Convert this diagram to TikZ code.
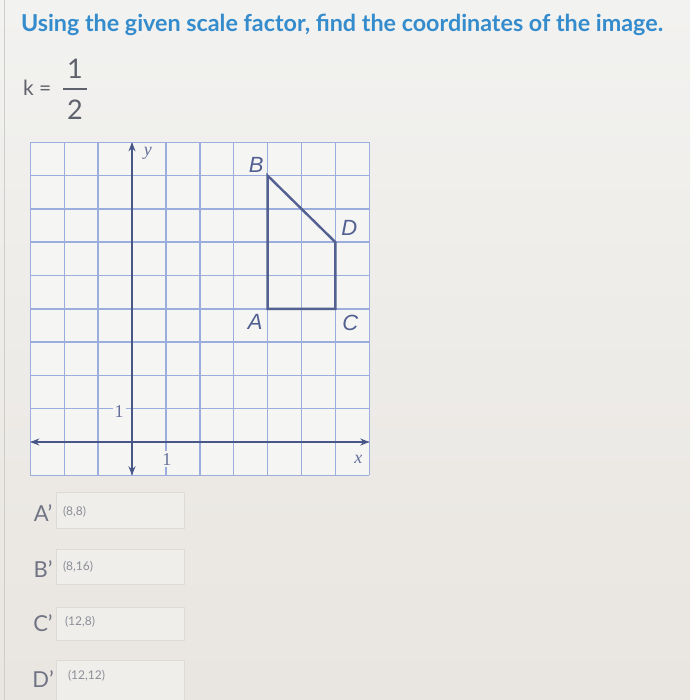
\documentclass[tikz,border=0pt]{standalone}
\usepackage{fontspec}
\setmainfont{Lato}
\newfontfamily\serif{Liberation Serif}
\newfontfamily\arial{Liberation Sans}
\usetikzlibrary{positioning,arrows.meta}
\definecolor{bgtop}{RGB}{242,242,240}
\definecolor{bgbottom}{RGB}{233,229,224}
\definecolor{paper}{RGB}{245,245,243}
\definecolor{titleblue}{RGB}{52,140,205}
\definecolor{ktext}{RGB}{95,98,108}
\definecolor{gridblue}{RGB}{155,173,220}
\definecolor{axisblue}{RGB}{72,86,136}
\definecolor{figblue}{RGB}{82,96,146}
\definecolor{anstext}{RGB}{112,116,132}
\definecolor{valtext}{RGB}{140,142,152}
\definecolor{boxline}{RGB}{221,219,214}
\definecolor{boxfill}{RGB}{239,238,235}
\definecolor{pageline}{RGB}{205,205,205}
\begin{document}
\begin{tikzpicture}[x=1pt, y=-1pt]
    \tikzstyle{every node} = [inner sep=0pt, outer sep=0pt]
    \tikzstyle{gridline} = [draw=gridblue, line width=1.4pt]
    \tikzstyle{axis} = [draw=axisblue, line width=2pt, {Stealth[length=9pt,width=7pt]}-{Stealth[length=9pt,width=7pt]}]
    \tikzstyle{figure} = [draw=figblue, line width=2.4pt, line join=miter]
    \tikzstyle{vertex} = [text=figblue, font=\arial\itshape\fontsize{22}{22}\selectfont]
    \tikzstyle{axislabel} = [text=axisblue!85, font=\serif\itshape\fontsize{18}{18}\selectfont]
    \tikzstyle{tick} = [text=axisblue!85, fill=paper, inner sep=2pt, font=\serif\fontsize{18}{18}\selectfont]
    \tikzstyle{answer} = [text=anstext, font=\fontsize{22}{22}\selectfont]
    \tikzstyle{value} = [anchor=west, text=valtext, font=\fontsize{12}{12}\selectfont]
    \tikzstyle{inbox} = [draw=boxline, fill=boxfill, line width=0.8pt]

    \useasboundingbox[top color=bgtop, bottom color=bgbottom] (0,0) rectangle (690,700);
    \draw[pageline, line width=1pt] (4,0) -- (4,700);

    \node[anchor=west, text=titleblue, font=\bfseries\fontsize{23.3}{23.3}\selectfont] (question) at (21,25)
        {Using the given scale factor, find the coordinates of the image.};
    \node[anchor=west, text=ktext, font=\fontsize{21}{21}\selectfont] (k) at (23,88) {k =};
    \node[text=ktext, font=\fontsize{27}{27}\selectfont] (numer) at (75,69) {1};
    \node[text=ktext, font=\fontsize{27}{27}\selectfont] (denom) at (75,110) {2};
    \coordinate (bar left) at (63,89);
    \coordinate (bar right) at (87,89);
    \draw[ktext, line width=1.8pt] (bar left) -- (bar right);

    \begin{scope}[shift={(132pt,-442pt)}, x=33.9pt, y=33.3pt]
        \fill[paper] (-3,-1) rectangle (7,9);
        \draw[gridline, step=1] (-3,-1) grid (7,9);
        \coordinate (x min) at (-3,0);
        \coordinate (x max) at (7,0);
        \coordinate (y min) at (0,-1);
        \coordinate (y max) at (0,9);
        \node[tick] (one y) at (-0.38,0.9) {1};
        \node[tick] (one x) at (1.03,-0.52) {1};
        \draw[axis] (x min) -- (x max);
        \draw[axis] (y min) -- (y max);
        \node[axislabel] (label y) at (0.47,8.68) {y};
        \node[axislabel] (label x) at (6.68,-0.52) {x};

        \coordinate (A) at (4,4);
        \coordinate (B) at (4,8);
        \coordinate (C) at (6,4);
        \coordinate (D) at (6,6);
        \draw[figure] (A) -- (B) -- (D) -- (C) -- cycle;
        \node[vertex, above left=3pt and 4pt of B] (name B) {B};
        \node[vertex, above right=7pt and 6pt of D] (name D) {D};
        \node[vertex, below left=6pt and 5pt of A] (name A) {A};
        \node[vertex, below right=6pt and 7pt of C] (name C) {C};
    \end{scope}

    \draw[inbox] (56,492) rectangle (184,528);
    \draw[inbox] (56,549) rectangle (184,584);
    \draw[inbox] (56,607) rectangle (184,640);
    \draw[inbox] (56,660) rectangle (184,705);
    \node[answer] (A prime) at (43,513) {A'};
    \node[answer] (B prime) at (43,569) {B'};
    \node[answer] (C prime) at (43,623) {C'};
    \node[answer] (D prime) at (43,679) {D'};
    \node[value] (A value) at (63,512) {(8,8)};
    \node[value] (B value) at (63,567) {(8,16)};
    \node[value] (C value) at (65,622) {(12,8)};
    \node[value] (D value) at (68,676) {(12,12)};
\end{tikzpicture}
\end{document}
